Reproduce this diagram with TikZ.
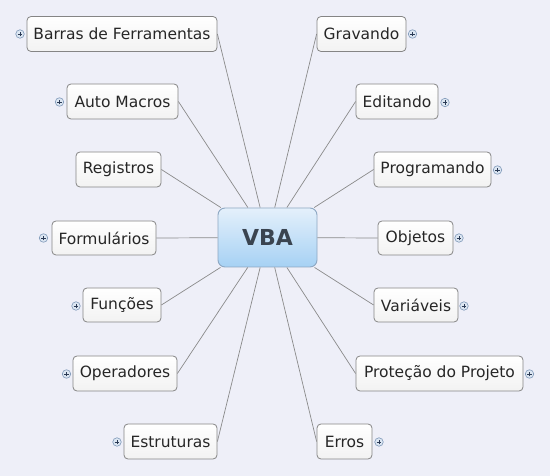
\documentclass[tikz,border=0pt]{standalone}
\usepackage{fontspec}
\setmainfont{DejaVu Sans}
\usetikzlibrary{shapes.geometric}
\definecolor{bgc}{HTML}{EEEFF8}
\definecolor{boxborder}{HTML}{858585}
\definecolor{linec}{HTML}{8A8A8A}
\definecolor{txtc}{HTML}{262626}
\definecolor{vbatop}{HTML}{E4F0FB}
\definecolor{vbabot}{HTML}{A6D1F4}
\definecolor{vbaborder}{HTML}{8DA7C2}
\definecolor{vbatext}{HTML}{3A4450}
\definecolor{iconfill}{HTML}{DCE6F2}
\definecolor{iconborder}{HTML}{7E98B8}
\definecolor{iconplus}{HTML}{2A3A55}
\tikzset{
  topic/.style={draw=boxborder, line width=0.8pt, rounded corners=4pt,
    top color=white, bottom color=white!95!black, text=txtc,
    font=\fontsize{15.5}{18}\selectfont, minimum height=35pt, inner sep=0pt},
  central/.style={draw=vbaborder, line width=0.9pt, rounded corners=7pt,
    top color=vbatop, bottom color=vbabot, text=vbatext,
    font=\fontsize{22}{26}\selectfont\bfseries, minimum width=99pt, minimum height=59pt, inner sep=0pt},
  conn/.style={draw=linec, line width=0.7pt},
  plusicon/.style={circle, draw=iconborder, fill=iconfill, line width=0.6pt,
    minimum size=8.5pt, inner sep=0pt,
    path picture={\draw[iconplus, line width=0.7pt]
      ([xshift=-2.3pt]path picture bounding box.center) -- ([xshift=2.3pt]path picture bounding box.center)
      ([yshift=-2.3pt]path picture bounding box.center) -- ([yshift=2.3pt]path picture bounding box.center);}}
}
\begin{document}
\begin{tikzpicture}[x=1pt,y=-1pt]
\fill[bgc] (0,0) rectangle (550,476);
\useasboundingbox (0,0) rectangle (550,476);

\node[central] (vba) at (267.5,237.5) {VBA};

% left
\node[topic, minimum width=190pt] (barras) at (122,34) {Barras de Ferramentas};
\node[topic, minimum width=111pt] (auto) at (122.5,101.5) {Auto Macros};
\node[topic, minimum width=85pt] (reg) at (118.5,169.5) {Registros};
\node[topic, minimum width=104pt, minimum height=34pt] (form) at (104,238) {Formulários};
\node[topic, minimum width=78pt, minimum height=34pt] (func) at (122,305) {Funções};
\node[topic, minimum width=104pt] (oper) at (125,373.5) {Operadores};
\node[topic, minimum width=93pt] (estr) at (170.5,441.5) {Estruturas};

% right
\node[topic, minimum width=89pt] (grav) at (361.5,34) {Gravando};
\node[topic, minimum width=82pt] (edit) at (397,101.5) {Editando};
\node[topic, minimum width=117pt] (prog) at (432.5,169.5) {Programando};
\node[topic, minimum width=75pt, minimum height=34pt] (obj) at (415.5,238) {Objetos};
\node[topic, minimum width=84pt, minimum height=34pt] (var) at (416,305) {Variáveis};
\node[topic, minimum width=167pt] (prot) at (439.5,373.5) {Proteção do Projeto};
\node[topic, minimum width=55pt] (erros) at (344.5,441.5) {Erros};

% connectors
\foreach \n in {barras,auto,reg,form,func,oper,estr}
  \draw[conn] (vba) -- (\n.east);
\foreach \n in {grav,edit,prog,obj,var,prot,erros}
  \draw[conn] (vba) -- (\n.west);

% icons
\node[plusicon] (ibarras) at (20,34) {};
\node[plusicon] (iauto) at (59.5,102) {};
\node[plusicon] (iform) at (43.5,238) {};
\node[plusicon] (ifunc) at (76,306) {};
\node[plusicon] (ioper) at (66.5,374) {};
\node[plusicon] (iestr) at (117,442) {};
\node[plusicon] (igrav) at (412.5,34) {};
\node[plusicon] (iedit) at (445,102.5) {};
\node[plusicon] (iprog) at (497.5,170) {};
\node[plusicon] (iobj) at (459,238) {};
\node[plusicon] (ivar) at (464,306) {};
\node[plusicon] (iprot) at (529.5,374) {};
\node[plusicon] (ierros) at (379,442) {};
\end{tikzpicture}
\end{document}
